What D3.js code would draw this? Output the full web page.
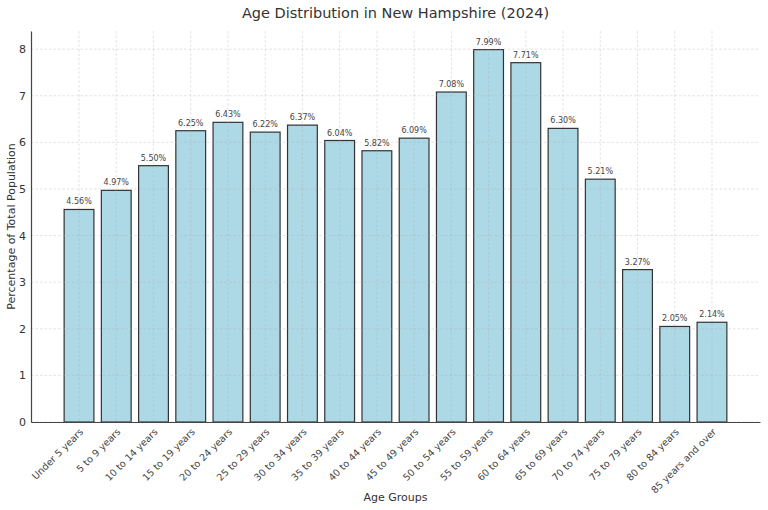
<!DOCTYPE html>
<html>
<head>
<meta charset="utf-8">
<script src="https://cdn.jsdelivr.net/npm/d3@7"></script>
<style>
  html, body { margin: 0; padding: 0; background: #fff; }
  svg { display: block; font-family: "DejaVu Sans", sans-serif; }
</style>
</head>
<body>
<svg id="chart" width="768" height="510"></svg>
<script>
const ageGroups = [
  "Under 5 years", "5 to 9 years", "10 to 14 years", "15 to 19 years",
  "20 to 24 years", "25 to 29 years", "30 to 34 years", "35 to 39 years",
  "40 to 44 years", "45 to 49 years", "50 to 54 years", "55 to 59 years",
  "60 to 64 years", "65 to 69 years", "70 to 74 years", "75 to 79 years",
  "80 to 84 years", "85 years and over"
];
const percentages = [
  4.56, 4.97, 5.50, 6.25, 6.43, 6.22, 6.37, 6.04, 5.82,
  6.09, 7.08, 7.99, 7.71, 6.30, 5.21, 3.27, 2.05, 2.14
];
const yTicks = [0, 1, 2, 3, 4, 5, 6, 7, 8];

const width = 768, height = 510;
const margin = { top: 31, right: 8, bottom: 88, left: 31 };
const innerW = width - margin.left - margin.right;
const innerH = height - margin.top - margin.bottom;

const svg = d3.select("#chart");
const g = svg.append("g").attr("transform", `translate(${margin.left},${margin.top})`);

// bar index positions with 5% padding on each side
const n = ageGroups.length;
const xLo = -0.4 - 0.05 * (n - 1 + 0.8);
const xHi = n - 1 + 0.4 + 0.05 * (n - 1 + 0.8);
const x = d3.scaleLinear().domain([xLo, xHi]).range([0, innerW]);
const step = x(1) - x(0);
const barW = step * 0.8;

const yMax = d3.max(percentages) * 1.05;
const y = d3.scaleLinear().domain([0, yMax]).range([innerH, 0]);

// bars
g.append("g")
  .selectAll("rect")
  .data(percentages)
  .join("rect")
  .attr("x", (d, i) => x(i) - barW / 2)
  .attr("y", (d) => y(d))
  .attr("width", barW)
  .attr("height", (d) => y(0) - y(d))
  .attr("fill", "#add8e6")
  .attr("stroke", "#333")
  .attr("stroke-width", 1.2);

// grid on top, faint dashed
const grid = g.append("g").attr("stroke", "#b0b0b0").attr("stroke-opacity", 0.5)
  .attr("stroke-width", 0.7).attr("stroke-dasharray", "2.5,2");
grid.selectAll("line.h")
  .data(yTicks)
  .join("line")
  .attr("class", "h")
  .attr("x1", 0).attr("x2", innerW)
  .attr("y1", (d) => y(d)).attr("y2", (d) => y(d));
grid.selectAll("line.v")
  .data(ageGroups)
  .join("line")
  .attr("class", "v")
  .attr("x1", (d, i) => x(i)).attr("x2", (d, i) => x(i))
  .attr("y1", 0).attr("y2", innerH);

// value labels
g.append("g")
  .selectAll("text")
  .data(percentages)
  .join("text")
  .attr("x", (d, i) => x(i))
  .attr("y", (d) => y(d) - 5)
  .attr("text-anchor", "middle")
  .attr("font-size", 8)
  .attr("fill", "#444")
  .text((d) => d.toFixed(2) + "%");

// y axis
const yAxis = g.append("g")
  .call(d3.axisLeft(y).tickValues(yTicks).tickSize(0).tickPadding(5));
yAxis.select(".domain").attr("stroke", "#444").attr("stroke-width", 1.2);
yAxis.selectAll("text").attr("font-size", 11).attr("fill", "#333")
  .attr("font-family", "DejaVu Sans, sans-serif");

// x axis
const xAxis = g.append("g")
  .attr("transform", `translate(0,${innerH})`)
  .call(d3.axisBottom(x).tickValues(d3.range(n)).tickSize(0).tickFormat((i) => ageGroups[i]));
xAxis.select(".domain").attr("stroke", "#444").attr("stroke-width", 1.2);
xAxis.selectAll("text")
  .attr("font-size", 9.6)
  .attr("fill", "#444")
  .attr("font-family", "DejaVu Sans, sans-serif")
  .attr("text-anchor", "end")
  .attr("dy", "0.35em")
  .attr("transform", "translate(2,8) rotate(-45)")
  .attr("y", 0)
  .attr("x", 0);

// title and axis labels
svg.append("text")
  .attr("x", margin.left + innerW / 2)
  .attr("y", 18)
  .attr("text-anchor", "middle")
  .attr("font-size", 14.5)
  .attr("fill", "#333")
  .text("Age Distribution in New Hampshire (2024)");

svg.append("text")
  .attr("x", margin.left + innerW / 2)
  .attr("y", 501)
  .attr("text-anchor", "middle")
  .attr("font-size", 11)
  .attr("fill", "#333")
  .text("Age Groups");

svg.append("text")
  .attr("transform", `translate(15,${margin.top + innerH / 2}) rotate(-90)`)
  .attr("text-anchor", "middle")
  .attr("font-size", 11)
  .attr("fill", "#333")
  .text("Percentage of Total Population");
</script>
</body>
</html>
